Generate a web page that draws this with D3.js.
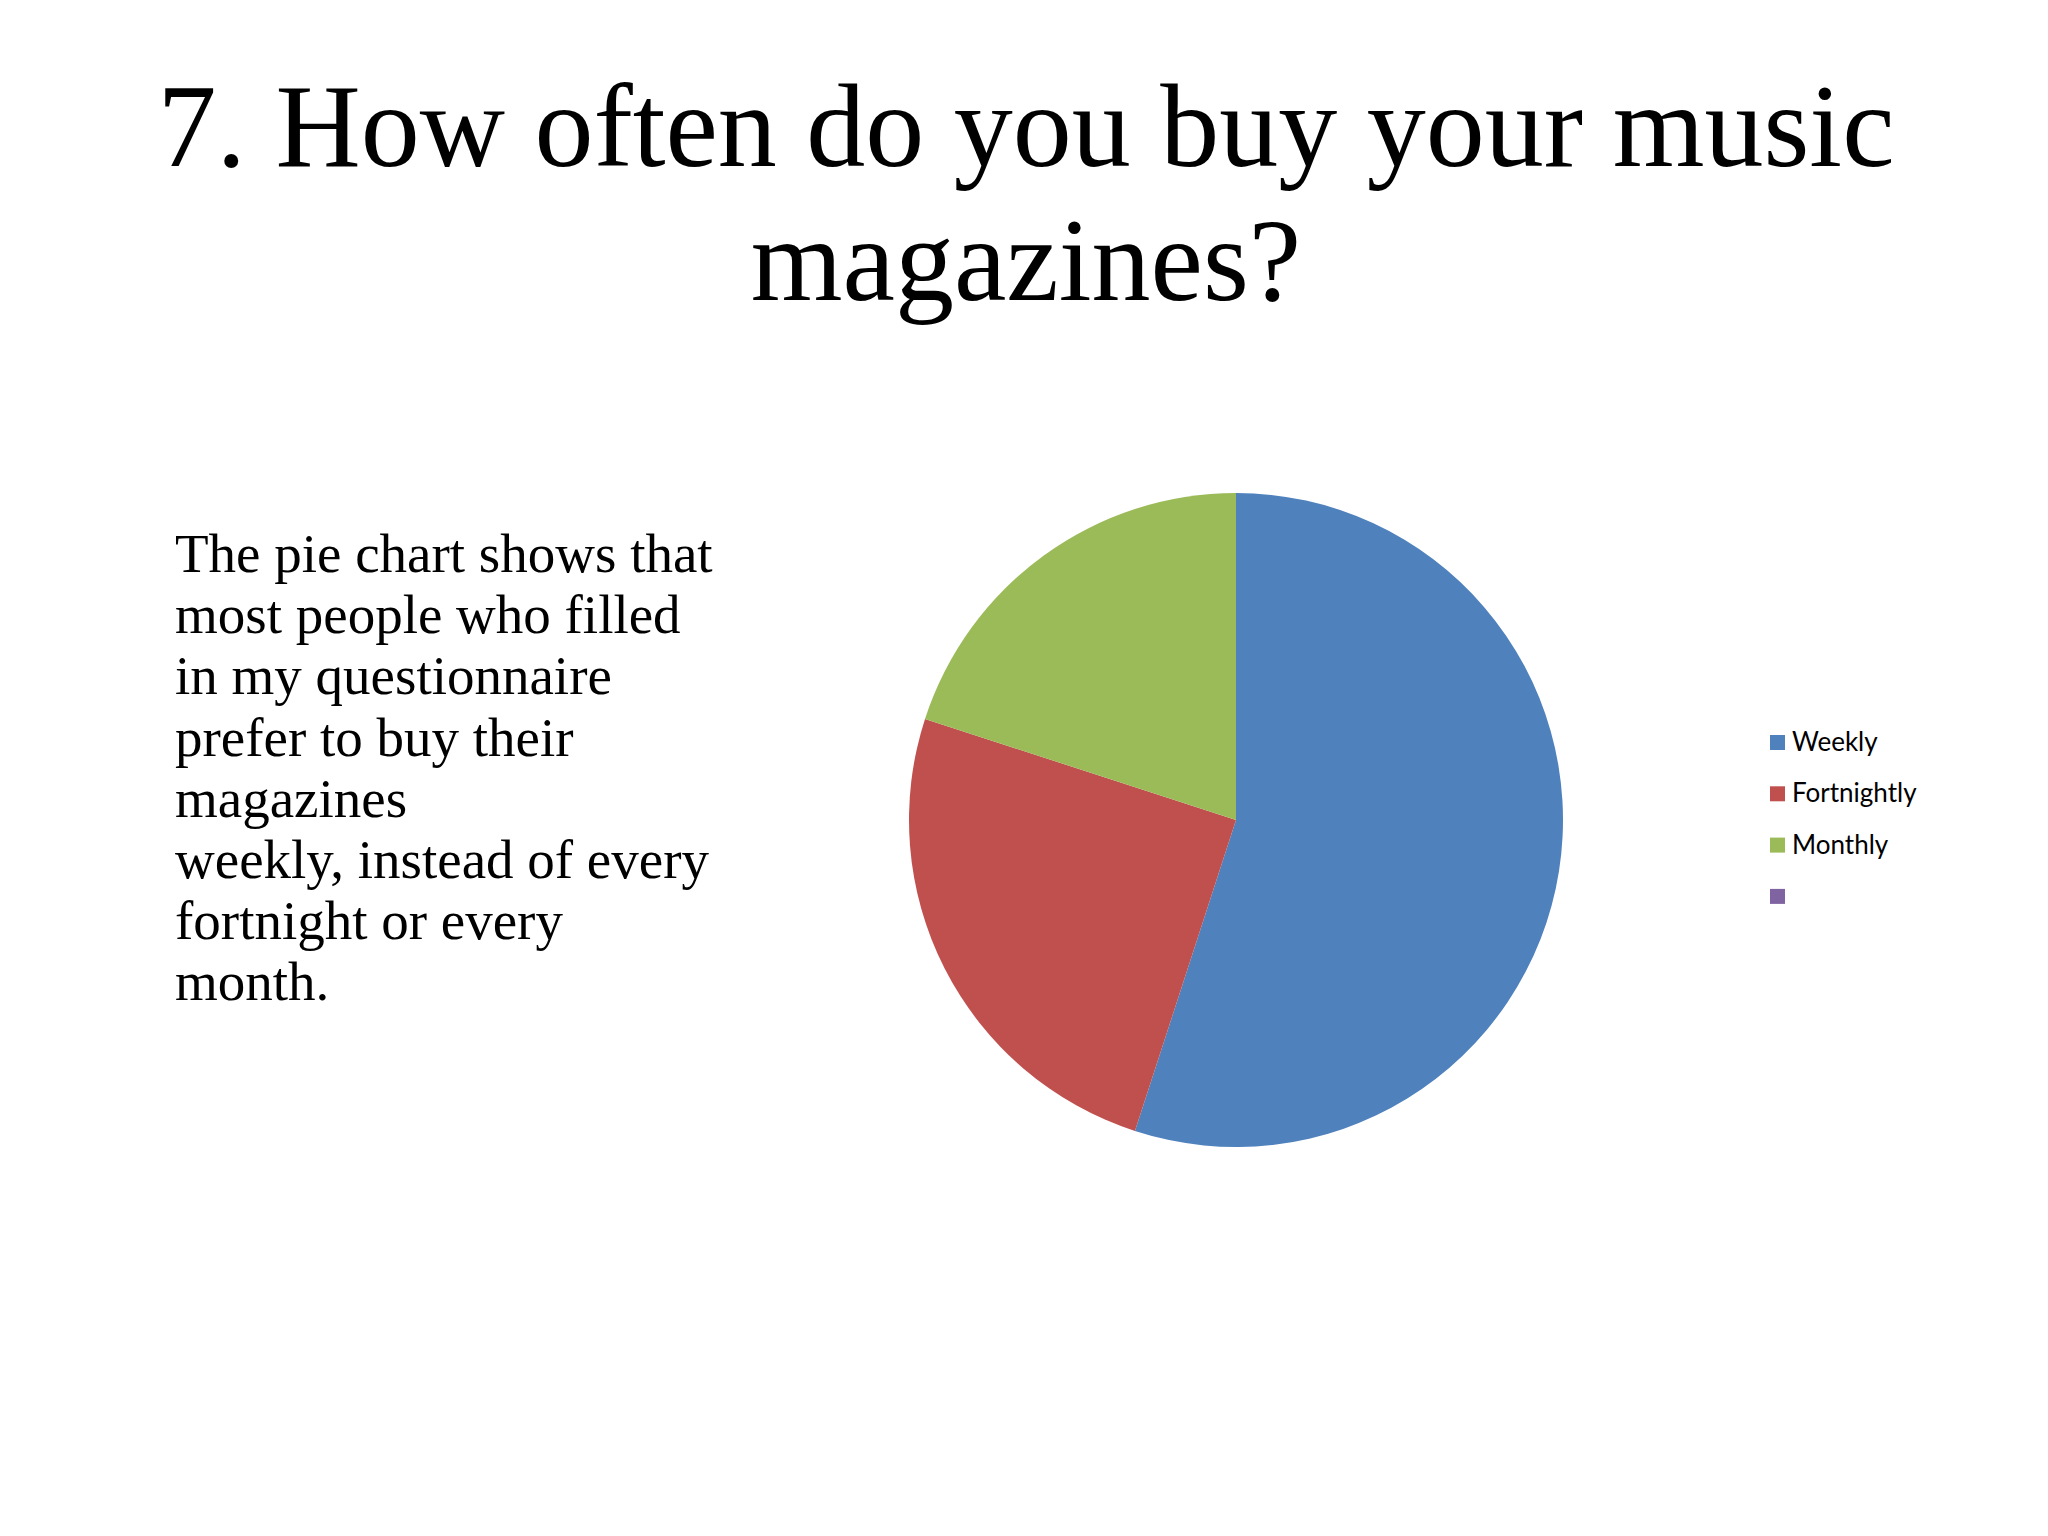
<!DOCTYPE html><html lang="en"><head><meta charset="utf-8">
<title>7. How often do you buy your music magazines?</title>
<script src="https://cdn.jsdelivr.net/npm/d3@7"></script>
<style>
body {
	margin: 0;
	background: #fff;
}
</style>
</head>
<body>
<div id="chart"></div>
<script>
// data
const categories = ["Weekly", "Fortnightly", "Monthly", ""];
const values = [11, 5, 4, 0];
const colors = ["#4f81bd", "#c0504d", "#9bbb59", "#8064a2"];
const titleLines = ["7. How often do you buy your music", "magazines?"];
const noteLines = [
	"The pie chart shows that",
	"most people who filled",
	"in my questionnaire",
	"prefer to buy their",
	"magazines",
	"weekly, instead of every",
	"fortnight or every",
	"month."
];

const W = 2048, H = 1536;
const serif = "'Liberation Serif', 'DejaVu Serif', serif";
const sans = "Lato, 'Liberation Sans', sans-serif";

const svg = d3.select("#chart").append("svg")
	.attr("width", W)
	.attr("height", H);

svg.append("rect").attr("width", W).attr("height", H).attr("fill", "#fff");

// title
svg.append("g")
	.selectAll("text")
	.data(titleLines)
	.join("text")
		.attr("x", 1026)
		.attr("y", (d, i) => 166 + i * 134)
		.attr("text-anchor", "middle")
		.attr("font-family", serif)
		.attr("font-size", 118)
		.attr("fill", "#000")
		.text(d => d);

// explanation text
svg.append("g")
	.selectAll("text")
	.data(noteLines)
	.join("text")
		.attr("x", 175)
		.attr("y", (d, i) => 572 + i * 61.2)
		.attr("font-family", serif)
		.attr("font-size", 55)
		.attr("fill", "#000")
		.text(d => d);

// pie
const data = categories.map((c, i) => ({ name: c, value: values[i] }));
const color = d3.scaleOrdinal().domain(categories).range(colors);
const pie = d3.pie().sort(null).value(d => d.value);
const arc = d3.arc().innerRadius(0).outerRadius(327);

svg.append("g")
	.attr("transform", "translate(1236, 820)")
	.selectAll("path")
	.data(pie(data).filter(d => d.data.value > 0))
	.join("path")
		.attr("d", arc)
		.attr("fill", d => color(d.data.name));

// legend
const legend = svg.append("g")
	.attr("transform", "translate(1770, 742)")
	.selectAll("g")
	.data(categories)
	.join("g")
		.attr("transform", (d, i) => `translate(0, ${i * 51.3})`);
legend.append("rect")
	.attr("x", 0)
	.attr("y", -7)
	.attr("width", 15)
	.attr("height", 15)
	.attr("fill", d => color(d));
legend.append("text")
	.attr("x", 22)
	.attr("y", 0)
	.attr("dy", "0.35em")
	.attr("font-family", sans)
	.attr("font-size", 26)
	.attr("fill", "#000")
	.text(d => d);
</script>
</body>
</html>
